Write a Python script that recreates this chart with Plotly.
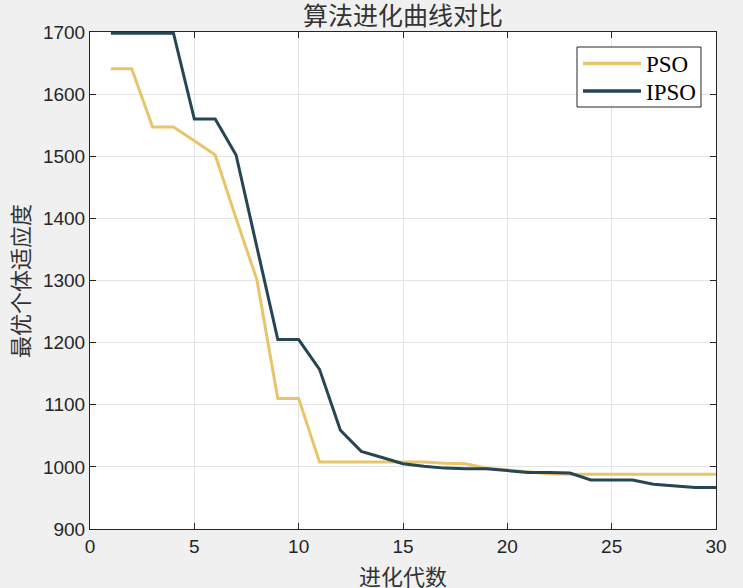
import plotly.graph_objects as go

generations = list(range(1, 31))
pso = [1641, 1641, 1547, 1547, 1525, 1502, 1400, 1301, 1110, 1110,
       1008, 1008, 1008, 1008, 1009, 1008, 1006, 1005, 998, 995,
       991, 989, 988, 988, 988, 988, 988, 988, 988, 988]
ipso = [1698, 1698, 1698, 1698, 1560, 1560, 1502, 1354, 1205, 1205,
        1157, 1059, 1025, 1015, 1005, 1001, 998, 997, 997, 994,
        991, 991, 990, 979, 979, 979, 972, 969, 967, 967]
series_names = ["PSO", "IPSO"]
colors = ["#E9C46A", "#264653"]
title_text = "算法进化曲线对比"
xlabel = "进化代数"
ylabel = "最优个体适应度"

# plot-area geometry in pixels
W, H = 743, 588
L, R, T, B = 90, 716, 32, 529


def fx(px):
    return (px - L) / (R - L)


def fy(py):
    return (B - py) / (B - T)


fig = go.Figure()
for name, vals, c in zip(series_names, [pso, ipso], colors):
    fig.add_trace(go.Scatter(x=generations, y=vals, mode="lines", name=name,
                             line=dict(color=c, width=3), showlegend=False))

axis_common = dict(showgrid=True, gridcolor="#e3e3e3", gridwidth=1,
                   showline=True, linecolor="#262626", linewidth=1, mirror="ticks",
                   ticks="inside", ticklen=6, tickcolor="#262626",
                   tickfont=dict(family="Liberation Sans, Arial", size=19, color="#262626"),
                   zeroline=False)

fig.update_xaxes(range=[0, 30], dtick=5, **axis_common)
fig.update_yaxes(range=[900, 1700], dtick=100, **axis_common)

# legend drawn as box + sample lines + labels
shapes = [dict(type="rect", xref="paper", yref="paper",
               x0=fx(577), x1=fx(701), y0=fy(107), y1=fy(47),
               fillcolor="white", line=dict(color="#262626", width=1), layer="above")]
annotations = []
legend_rows = [63.5, 91]
for name, c, ry in zip(series_names, colors, legend_rows):
    shapes.append(dict(type="line", xref="paper", yref="paper",
                       x0=fx(583), x1=fx(641), y0=fy(ry), y1=fy(ry),
                       line=dict(color=c, width=3.5), layer="above"))
    annotations.append(dict(text=name, xref="paper", yref="paper", x=fx(644), y=fy(ry + 1),
                            xanchor="left", yanchor="middle", showarrow=False,
                            font=dict(family="Liberation Serif, Times New Roman", size=23,
                                      color="black")))

cjk_font = dict(family="Noto Sans CJK SC", size=22, color="#333333")
annotations += [
    dict(text=xlabel, xref="paper", yref="paper", x=0.5, y=fy(575),
         xanchor="center", yanchor="middle", showarrow=False, font=cjk_font),
    dict(text=ylabel, xref="paper", yref="paper", x=fx(19), y=fy(281),
         xanchor="center", yanchor="middle", showarrow=False, textangle=-90, font=cjk_font),
]

fig.update_layout(
    width=W, height=H,
    margin=dict(l=L, r=W - R, t=T, b=H - B),
    paper_bgcolor="#f0f0f0", plot_bgcolor="white",
    title=dict(text=title_text, x=0.5, xref="paper", y=1 - 16 / H, yref="container",
               xanchor="center", yanchor="middle",
               font=dict(family="Noto Sans CJK SC", size=25, color="#333333")),
    showlegend=False,
    shapes=shapes,
    annotations=annotations,
)

fig.write_html("out.html", config={"displayModeBar": False},
               post_script="document.body.style.margin='0';document.body.style.padding='0';"
                           "document.body.style.overflow='hidden';")
